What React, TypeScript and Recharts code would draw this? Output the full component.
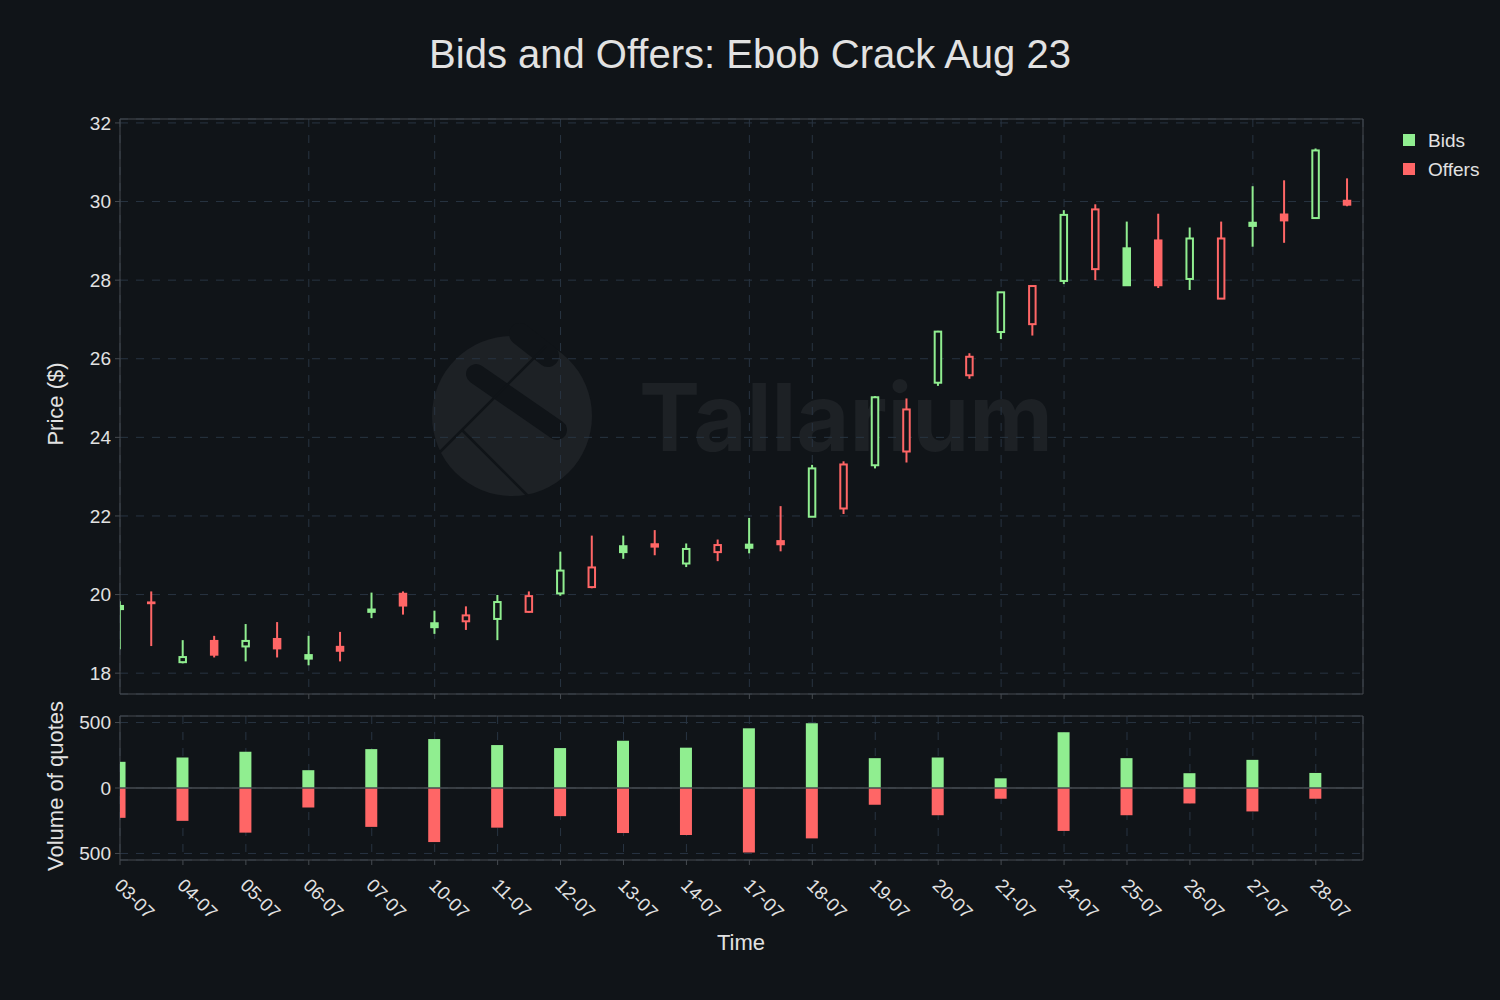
import React from "react";
import {
  Bar,
  CartesianGrid,
  ComposedChart,
  ReferenceArea,
  ReferenceLine,
  XAxis,
  YAxis,
} from "recharts";

const dates = [
  "03-07", "04-07", "05-07", "06-07", "07-07", "10-07", "11-07", "12-07", "13-07", "14-07",
  "17-07", "18-07", "19-07", "20-07", "21-07", "24-07", "25-07", "26-07", "27-07", "28-07",
];

const bidOpen = [19.71, 18.28, 18.68, 18.46, 19.62, 19.27, 19.38, 20.03, 21.23, 20.79, 21.27, 21.98, 23.29, 25.39, 26.68, 27.98, 28.81, 28.03, 29.46, 29.58];
const bidClose = [19.63, 18.41, 18.82, 18.37, 19.56, 19.17, 19.81, 20.61, 21.08, 21.16, 21.19, 23.21, 25.02, 26.69, 27.69, 29.66, 27.87, 29.06, 29.38, 31.3];
const bidHigh = [19.83, 18.84, 19.25, 18.95, 20.05, 19.59, 19.99, 21.09, 21.5, 21.3, 21.95, 23.3, 25.05, 26.71, 27.7, 29.78, 29.49, 29.34, 30.39, 31.35];
const bidLow = [18.61, 18.25, 18.3, 18.2, 19.4, 19.0, 18.84, 19.97, 20.91, 20.7, 21.05, 21.98, 23.21, 25.31, 26.5, 27.9, 27.87, 27.75, 28.85, 29.57];

const offerOpen = [19.8, 18.82, 18.87, 18.67, 20.02, 19.32, 19.56, 20.19, 21.28, 21.08, 21.36, 22.19, 23.64, 25.58, 26.88, 28.28, 29.01, 27.53, 29.67, 30.02];
const offerClose = [19.78, 18.47, 18.63, 18.57, 19.72, 19.47, 19.96, 20.69, 21.22, 21.26, 21.28, 23.31, 24.71, 26.05, 27.85, 29.8, 27.87, 29.06, 29.52, 29.92];
const offerHigh = [20.08, 18.95, 19.3, 19.05, 20.08, 19.7, 20.08, 21.5, 21.64, 21.4, 22.25, 23.39, 24.99, 26.14, 27.85, 29.93, 29.69, 29.49, 30.54, 30.59];
const offerLow = [18.69, 18.4, 18.4, 18.3, 19.49, 19.1, 19.54, 20.16, 21.0, 20.85, 21.1, 22.05, 23.36, 25.49, 26.59, 28.0, 27.8, 27.53, 28.95, 29.88];

const bidVolume = [200, 233, 277, 136, 297, 374, 328, 305, 361, 308, 456, 495, 228, 233, 74, 426, 228, 113, 215, 115];
const offerVolume = [228, 251, 341, 149, 297, 413, 303, 215, 344, 359, 492, 385, 128, 208, 82, 328, 208, 118, 179, 82];

// dates that get a vertical grid line in the price panel
const priceGridDates = ["06-07", "10-07", "12-07", "17-07", "18-07", "21-07", "24-07", "27-07"];
const priceTicks = [18, 20, 22, 24, 26, 28, 30, 32];
const volumeTicks = [-500, 0, 500];

const BG = "#101418";
const GREEN = "#90ee90";
const RED = "#ff6666";
const GRID = "#283442";
const AXIS = "#464b51";
const TEXT = "#e2e2e2";
const FONT = "'Liberation Sans', Arial, Helvetica, sans-serif";

const X_DOMAIN: [number, number] = [0, 19.75];
const PRICE_DOMAIN: [number, number] = [17.47, 32.1];
const VOLUME_DOMAIN: [number, number] = [-550, 550];

const candles = dates.flatMap((d, i) => [
  {
    x: i,
    side: "bid",
    open: bidOpen[i],
    close: bidClose[i],
    high: bidHigh[i],
    low: bidLow[i],
    range: [bidLow[i], bidHigh[i]],
  },
  {
    x: i + 0.5,
    side: "offer",
    open: offerOpen[i],
    close: offerClose[i],
    high: offerHigh[i],
    low: offerLow[i],
    range: [offerLow[i], offerHigh[i]],
  },
]);

const volumes = dates.map((d, i) => ({
  x: i,
  bids: bidVolume[i],
  offers: -offerVolume[i],
}));

const Candle = (props: any) => {
  const { x, y, width, height, payload } = props;
  if (!payload || x == null) return null;
  const { open, close, high, low, side } = payload;
  const color = side === "bid" ? GREEN : RED;
  const cx = x + width / 2;
  const yHigh = Math.min(y, y + height);
  const yLow = Math.max(y, y + height);
  const span = high - low || 1;
  const toY = (v: number) => yHigh + ((high - v) / span) * (yLow - yHigh);
  const top = toY(Math.max(open, close));
  const bottom = toY(Math.min(open, close));
  const rising = close > open;
  return (
    <g>
      <line x1={cx} x2={cx} y1={yHigh} y2={yLow} stroke={color} strokeWidth={2} />
      <rect
        x={cx - 3.25}
        y={top}
        width={6.5}
        height={Math.max(bottom - top, 0.6)}
        fill={rising ? BG : color}
        stroke={color}
        strokeWidth={2}
      />
    </g>
  );
};

const DateTick = (props: any) => {
  const { x, y, payload } = props;
  const label = dates[payload.value] ?? "";
  const tx = x - 2;
  const ty = y + 15;
  return (
    <text
      x={tx}
      y={ty}
      dy="0.35em"
      transform={`rotate(45, ${tx}, ${ty})`}
      textAnchor="start"
      fill={TEXT}
      fontSize={18.5}
    >
      {label}
    </text>
  );
};

const WM = "#1d2125";

const Watermark = () => (
  <svg width={1500} height={1000} style={{ position: "absolute", left: 0, top: 0 }}>
    <circle cx={512} cy={416} r={80} fill={WM} />
    <line x1={476} y1={374} x2={557} y2={430} stroke={BG} strokeWidth={20} strokeLinecap="round" />
    <line x1={520} y1={334} x2={548} y2={356} stroke={BG} strokeWidth={22} strokeLinecap="round" />
    <line x1={546} y1={346} x2={440} y2={452} stroke={BG} strokeWidth={2.5} />
    <line x1={462} y1={430} x2={528} y2={496} stroke={BG} strokeWidth={2.5} />
    <text
      x={639}
      y={451}
      fontFamily="Inter, 'Liberation Sans', sans-serif"
      fontWeight={700}
      fontSize={94}
      textLength={414}
      lengthAdjust="spacingAndGlyphs"
      fill={WM}
    >
      Tallarium
    </text>
  </svg>
);

const Labels = () => (
  <svg
    width={1500}
    height={1000}
    style={{ position: "absolute", left: 0, top: 0, pointerEvents: "none" }}
    fontFamily={FONT}
  >
    <text x={750} y={68} textAnchor="middle" fontSize={40} fill={TEXT}>
      Bids and Offers: Ebob Crack Aug 23
    </text>
    <text x={63} y={404} textAnchor="middle" fontSize={22} fill={TEXT} transform="rotate(-90, 63, 404)">
      Price ($)
    </text>
    <text x={63} y={786} textAnchor="middle" fontSize={22} fill={TEXT} transform="rotate(-90, 63, 786)">
      Volume of quotes
    </text>
    <text x={741} y={950} textAnchor="middle" fontSize={22} fill={TEXT}>
      Time
    </text>
    <rect x={1403} y={134} width={12} height={12} fill={GREEN} />
    <text x={1428} y={147} fontSize={19} fill={TEXT}>
      Bids
    </text>
    <rect x={1403} y={163} width={12} height={12} fill={RED} />
    <text x={1428} y={176} fontSize={19} fill={TEXT}>
      Offers
    </text>
  </svg>
);

export default function App() {
  const priceGridTicks = priceGridDates.map((d) => dates.indexOf(d));
  const dateTicks = dates.map((d, i) => i);
  return (
    <div
      style={{
        position: "absolute",
        left: 0,
        top: 0,
        width: 1500,
        height: 1000,
        background: BG,
        fontFamily: FONT,
        overflow: "hidden",
      }}
    >
      <Watermark />

      <div style={{ position: "absolute", left: 0, top: 0 }}>
        <ComposedChart
          width={1500}
          height={700}
          data={candles}
          margin={{ top: 119, right: 137, bottom: 0, left: 60 }}
        >
          <CartesianGrid stroke={GRID} strokeDasharray="8 8" />
          <XAxis
            dataKey="x"
            type="number"
            domain={X_DOMAIN}
            allowDataOverflow
            ticks={priceGridTicks}
            tickFormatter={() => ""}
            height={6}
            tickSize={5}
            stroke={AXIS}
            axisLine={false}
          />
          <YAxis
            type="number"
            domain={PRICE_DOMAIN}
            allowDataOverflow
            ticks={priceTicks}
            width={60}
            tickSize={5}
            tickMargin={4}
            stroke={AXIS}
            axisLine={false}
            tick={{ fill: TEXT, fontSize: 19 }}
          />
          <ReferenceArea
            x1={X_DOMAIN[0]}
            x2={X_DOMAIN[1]}
            y1={PRICE_DOMAIN[0]}
            y2={PRICE_DOMAIN[1]}
            fill="none"
            stroke={AXIS}
            strokeWidth={1}
          />
          <Bar dataKey="range" shape={<Candle />} barSize={9} isAnimationActive={false} />
        </ComposedChart>
      </div>

      <div style={{ position: "absolute", left: 0, top: 700 }}>
        <ComposedChart
          width={1500}
          height={300}
          data={volumes}
          stackOffset="sign"
          margin={{ top: 16, right: 137, bottom: 0, left: 60 }}
        >
          <CartesianGrid stroke={GRID} strokeDasharray="8 8" />
          <XAxis
            dataKey="x"
            type="number"
            domain={X_DOMAIN}
            allowDataOverflow
            ticks={dateTicks}
            tick={<DateTick />}
            height={140}
            tickSize={5}
            tickMargin={2}
            stroke={AXIS}
            axisLine={false}
          />
          <YAxis
            type="number"
            domain={VOLUME_DOMAIN}
            allowDataOverflow
            ticks={volumeTicks}
            tickFormatter={(v) => `${Math.abs(v)}`}
            width={60}
            tickSize={5}
            tickMargin={4}
            stroke={AXIS}
            axisLine={false}
            tick={{ fill: TEXT, fontSize: 19 }}
          />
          <ReferenceLine y={0} stroke={AXIS} strokeWidth={1.5} />
          <ReferenceArea
            x1={X_DOMAIN[0]}
            x2={X_DOMAIN[1]}
            y1={VOLUME_DOMAIN[0]}
            y2={VOLUME_DOMAIN[1]}
            fill="none"
            stroke={AXIS}
            strokeWidth={1}
          />
          <Bar dataKey="bids" stackId="vol" fill={GREEN} barSize={12} isAnimationActive={false} />
          <Bar dataKey="offers" stackId="vol" fill={RED} barSize={12} isAnimationActive={false} />
        </ComposedChart>
      </div>

      <Labels />
    </div>
  );
}
